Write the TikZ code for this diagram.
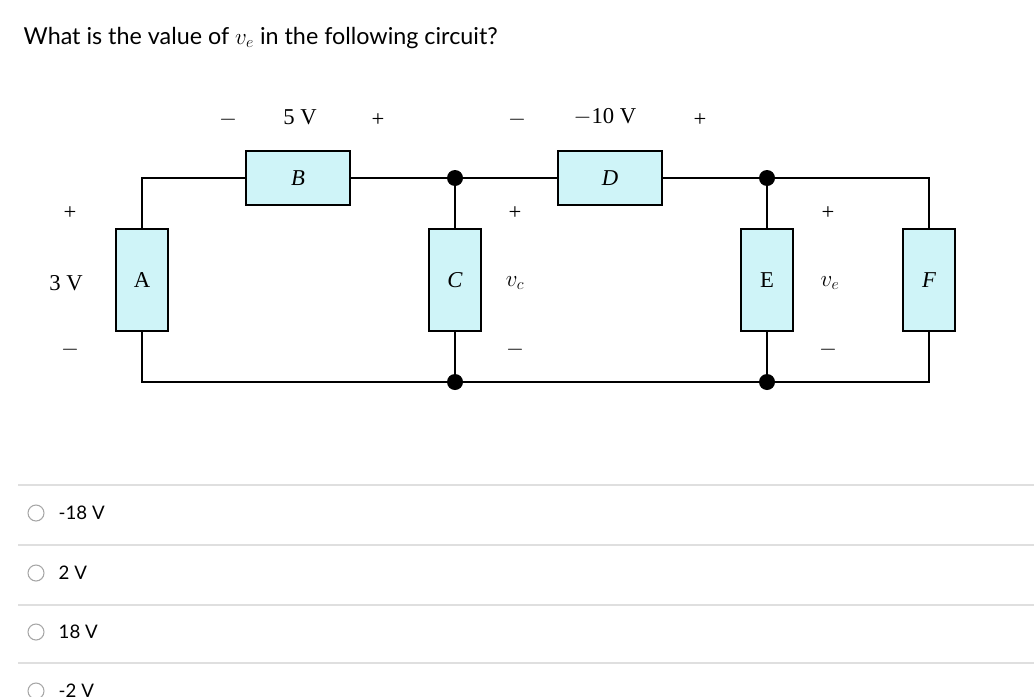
\documentclass[tikz,border=0pt]{standalone}
\usepackage{fontspec}
\setmainfont{Lato}
\newfontfamily\ckt{Liberation Serif}
\definecolor{boxc}{HTML}{CFF4F8}
\begin{document}
\begin{tikzpicture}[x=0.75pt,y=-0.75pt,
  el/.style={draw,line width=1.6pt,fill=boxc,minimum width=39pt,minimum height=77pt,inner sep=0,font=\ckt\fontsize{17}{20}\selectfont},
  elh/.style={draw,line width=1.6pt,fill=boxc,minimum width=78pt,minimum height=41pt,inner sep=0,font=\ckt\itshape\fontsize{17}{20}\selectfont},
  w/.style={line width=1.2pt},
  dot/.style={circle,fill,inner sep=0,minimum size=12pt},
  lbl/.style={font=\ckt\fontsize{17}{20}\selectfont},
  opt/.style={font=\fontsize{14}{17}\selectfont,anchor=west},
  rad/.style={circle,draw=gray!70,line width=0.8pt,inner sep=0,minimum size=12pt}]
\useasboundingbox (0,0) rectangle (1034,696);
\node[anchor=west,font=\fontsize{17.5}{20}\selectfont] (title) at (19,38) {What is the value of $v_e$ in the following circuit?};
\node[el] (A) at (142,280) {A};
\node[el] (C) at (455,280) {\itshape C};
\node[el] (E) at (767,280) {E};
\node[el] (F) at (929,280) {\itshape F};
\node[elh] (B) at (298,178) {B};
\node[elh] (D) at (610,178) {D};
\node[dot] (t1) at (455,178) {};
\node[dot] (t2) at (767,178) {};
\node[dot] (b1) at (455,382) {};
\node[dot] (b2) at (767,382) {};
\coordinate (tl) at (142,178); \coordinate (tr) at (929,178);
\coordinate (bl) at (142,382); \coordinate (br) at (929,382);
\draw[w] (A.north) -- (tl) -- (B.west);
\draw[w] (B.east) -- (t1) -- (D.west);
\draw[w] (D.east) -- (t2) -- (tr) -- (F.north);
\draw[w] (t1) -- (C.north); \draw[w] (t2) -- (E.north);
\draw[w] (A.south) -- (bl) -- (b1) -- (b2) -- (br) -- (F.south);
\draw[w] (C.south) -- (b1); \draw[w] (E.south) -- (b2);
\node[lbl] (l5) at (300,117) {5 V};
\node[lbl] (l5m) at (228,120) {$-$};
\node[lbl] (l5p) at (378,120) {+};
\node[lbl] (l10) at (605,117) {$-$10 V};
\node[lbl] (l10m) at (517,120) {$-$};
\node[lbl] (l10p) at (700,120) {+};
\node[lbl] (a1) at (70,213) {+};
\node[lbl] (a2) at (66,283) {3 V};
\node[lbl] (a3) at (70,350) {$-$};
\node[lbl] (c1) at (515,213) {+};
\node[lbl] (c2) at (515,283) {$v_c$};
\node[lbl] (c3) at (515,350) {$-$};
\node[lbl] (e1) at (828,213) {+};
\node[lbl] (e2) at (830,283) {$v_e$};
\node[lbl] (e3) at (828,350) {$-$};
\foreach \y in {485,545,605,663} \draw[gray!25,line width=0.8pt] (18,\y) -- (1034,\y);
\node[rad] (r1) at (36,513) {}; \node[opt] (o1) at (54,513) {-18 V};
\node[rad] (r2) at (36,573) {}; \node[opt] (o2) at (54,573) {2 V};
\node[rad] (r3) at (36,632) {}; \node[opt] (o3) at (54,632) {18 V};
\node[rad] (r4) at (36,691) {}; \node[opt] (o4) at (54,691) {-2 V};
\end{tikzpicture}
\end{document}
